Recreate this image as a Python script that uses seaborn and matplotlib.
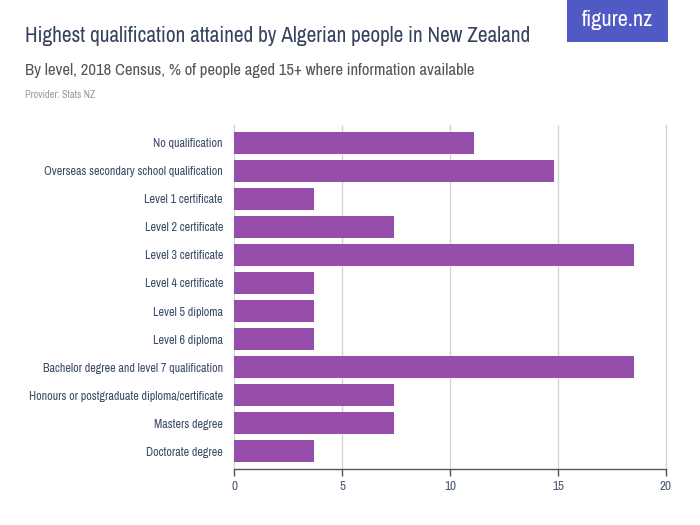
import matplotlib
matplotlib.use("Agg")
import matplotlib.pyplot as plt
import seaborn as sns
import pandas as pd

categories = [
    "No qualification",
    "Overseas secondary school qualification",
    "Level 1 certificate",
    "Level 2 certificate",
    "Level 3 certificate",
    "Level 4 certificate",
    "Level 5 diploma",
    "Level 6 diploma",
    "Bachelor degree and level 7 qualification",
    "Honours or postgraduate diploma/certificate",
    "Masters degree",
    "Doctorate degree",
]
values = [11.1, 14.8, 3.7, 7.4, 18.5, 3.7, 3.7, 3.7, 18.5, 7.4, 7.4, 3.7]
xticks = [0, 5, 10, 15, 20]

df = pd.DataFrame({"category": categories, "value": values})

sns.set_theme(style="white")
FONT = ["Archivo Narrow", "DejaVu Sans"]
plt.rcParams["font.family"] = FONT

fig = plt.figure(figsize=(7, 5.25), dpi=100)
ax = fig.add_axes([234 / 700, 1 - 469 / 525, 432 / 700, 344 / 525])

BAR = "#974eaa"
sns.barplot(data=df, y="category", x="value", orient="h", color=BAR,
            saturation=1, width=0.77, ax=ax, zorder=3, linewidth=0, edgecolor="none")

ax.set_xlim(0, 20)
ax.set_ylim(11.64, -0.64)
ax.set_xticks(xticks)
ax.set_xticklabels([str(t) for t in xticks])
ax.set_xlabel("")
ax.set_ylabel("")
ax.grid(axis="x", color="#d4d4d4", linewidth=1, zorder=0)
ax.grid(axis="y", visible=False)
for gl in ax.xaxis.get_gridlines():
    gl.set_clip_on(False)
for s in ["top", "right", "left"]:
    ax.spines[s].set_visible(False)
ax.spines["bottom"].set_color("#555555")
ax.spines["bottom"].set_linewidth(1)
ax.tick_params(axis="x", which="both", bottom=True, length=5, width=1,
               color="#555555", labelsize=9.5, labelcolor="#4a5775", pad=4)
ax.tick_params(axis="y", left=False, length=0, labelsize=8.7, labelcolor="#3b4a66", pad=8)

TITLE = "#34425f"
fig.text(25 / 700, 1 - 36 / 525, "Highest qualification attained by Algerian people in New Zealand",
         fontsize=15.3, color=TITLE, va="center", ha="left", fontweight="semibold")
fig.text(25 / 700, 1 - 70 / 525, "By level, 2018 Census, % of people aged 15+ where information available",
         fontsize=12, color="#555555", va="center", ha="left")
fig.text(25 / 700, 1 - 95 / 525, "Provider: Stats NZ",
         fontsize=7.5, color="#999999", va="center", ha="left")

# logo
logo = fig.add_axes([567 / 700, 1 - 42 / 525, 101 / 700, 42 / 525])
logo.set_facecolor("#5159c5")
logo.set_xticks([]); logo.set_yticks([])
for s in logo.spines.values():
    s.set_visible(False)
logo.text(0.5, 0.52, "figure.nz", color="white", fontsize=16, ha="center", va="center",
          transform=logo.transAxes, fontweight="bold")

fig.savefig("out.png", dpi=100)
